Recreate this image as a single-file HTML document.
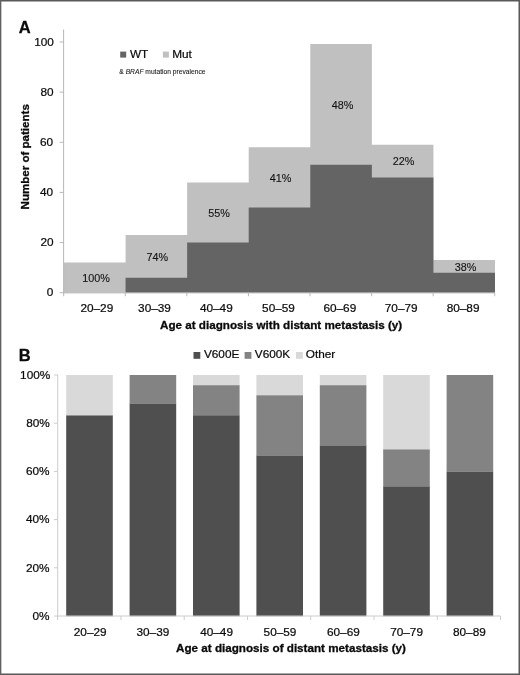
<!DOCTYPE html>
<html><head><meta charset="utf-8"><title>Figure</title>
<style>html,body{margin:0;padding:0;background:#fff}svg{display:block}text{font-family:"Liberation Sans",Arial,Helvetica,sans-serif;fill:#0a0a0a;stroke:#0a0a0a;stroke-width:0.22px}text[font-weight=bold]{stroke-width:0.3px}</style></head><body>
<svg width="520" height="675" viewBox="0 0 520 675">
<rect x="0" y="0" width="520" height="675" fill="#fff"/>
<rect x="0" y="0" width="520" height="1.5" fill="#595959"/>
<rect x="0" y="673.5" width="520" height="1.5" fill="#595959"/>
<rect x="0" y="0" width="1.35" height="675" fill="#616161"/>
<rect x="518.5" y="0" width="1.5" height="675" fill="#595959"/>
<path d="M64.00,292.70 L64.00,262.62 L125.57,262.62 L125.57,235.04 L187.14,235.04 L187.14,182.39 L248.71,182.39 L248.71,147.29 L310.29,147.29 L310.29,44.01 L371.86,44.01 L371.86,144.79 L433.43,144.79 L433.43,260.11 L495.00,260.11 L495.00,292.70Z" fill="#c0c0c0"/>
<path d="M64.00,292.70 L64.00,292.70 L125.57,292.70 L125.57,277.66 L187.14,277.66 L187.14,242.56 L248.71,242.56 L248.71,207.46 L310.29,207.46 L310.29,164.84 L371.86,164.84 L371.86,177.38 L433.43,177.38 L433.43,272.64 L495.00,272.64 L495.00,292.70Z" fill="#646464"/>
<line x1="63.6" y1="29.5" x2="63.6" y2="293.2" stroke="#b8b8b8" stroke-width="1"/>
<line x1="63.6" y1="292.9" x2="495.0" y2="292.9" stroke="#b8b8b8" stroke-width="1"/>
<line x1="59.6" y1="292.70" x2="63.6" y2="292.70" stroke="#b8b8b8" stroke-width="1"/>
<text x="53.2" y="296.40" font-size="11.8" text-anchor="end">0</text>
<line x1="59.6" y1="242.56" x2="63.6" y2="242.56" stroke="#b8b8b8" stroke-width="1"/>
<text x="53.5" y="246.26" font-size="11.8" text-anchor="end">20</text>
<line x1="59.6" y1="192.42" x2="63.6" y2="192.42" stroke="#b8b8b8" stroke-width="1"/>
<text x="53.05" y="196.12" font-size="11.8" text-anchor="end">40</text>
<line x1="59.6" y1="142.28" x2="63.6" y2="142.28" stroke="#b8b8b8" stroke-width="1"/>
<text x="53.05" y="145.98" font-size="11.8" text-anchor="end">60</text>
<line x1="59.6" y1="92.14" x2="63.6" y2="92.14" stroke="#b8b8b8" stroke-width="1"/>
<text x="53.55" y="95.84" font-size="11.8" text-anchor="end">80</text>
<line x1="59.6" y1="42.00" x2="63.6" y2="42.00" stroke="#b8b8b8" stroke-width="1"/>
<text x="53.95" y="45.70" font-size="11.8" text-anchor="end">100</text>
<line x1="63.70" y1="292.7" x2="63.70" y2="296.2" stroke="#b8b8b8" stroke-width="1"/>
<line x1="125.27" y1="292.7" x2="125.27" y2="296.2" stroke="#b8b8b8" stroke-width="1"/>
<line x1="186.84" y1="292.7" x2="186.84" y2="296.2" stroke="#b8b8b8" stroke-width="1"/>
<line x1="248.41" y1="292.7" x2="248.41" y2="296.2" stroke="#b8b8b8" stroke-width="1"/>
<line x1="309.99" y1="292.7" x2="309.99" y2="296.2" stroke="#b8b8b8" stroke-width="1"/>
<line x1="371.56" y1="292.7" x2="371.56" y2="296.2" stroke="#b8b8b8" stroke-width="1"/>
<line x1="433.13" y1="292.7" x2="433.13" y2="296.2" stroke="#b8b8b8" stroke-width="1"/>
<line x1="494.70" y1="292.7" x2="494.70" y2="296.2" stroke="#b8b8b8" stroke-width="1"/>
<text x="96.80" y="311.6" font-size="11.8" text-anchor="middle">20–29</text>
<text x="154.50" y="311.6" font-size="11.8" text-anchor="middle">30–39</text>
<text x="216.30" y="311.6" font-size="11.8" text-anchor="middle">40–49</text>
<text x="278.50" y="311.6" font-size="11.8" text-anchor="middle">50–59</text>
<text x="339.80" y="311.6" font-size="11.8" text-anchor="middle">60–69</text>
<text x="401.20" y="311.6" font-size="11.8" text-anchor="middle">70–79</text>
<text x="463.10" y="311.6" font-size="11.8" text-anchor="middle">80–89</text>
<text x="281.1" y="328.6" font-size="11.67" font-weight="bold" text-anchor="middle">Age at diagnosis with distant metastasis (y)</text>
<text transform="translate(28.7,156.8) rotate(-90)" font-size="11.55" font-weight="bold" text-anchor="middle">Number of patients</text>
<text x="18.8" y="33.1" font-size="16.5" font-weight="bold" fill="#111">A</text>
<text x="96" y="282.2" font-size="10.8" text-anchor="middle" style="stroke-width:0.12px;fill:#151515">100%</text>
<text x="157.3" y="260.8" font-size="10.8" text-anchor="middle" style="stroke-width:0.12px;fill:#151515">74%</text>
<text x="219" y="216.8" font-size="10.8" text-anchor="middle" style="stroke-width:0.12px;fill:#151515">55%</text>
<text x="280.5" y="182.3" font-size="10.8" text-anchor="middle" style="stroke-width:0.12px;fill:#151515">41%</text>
<text x="342.5" y="109.3" font-size="10.8" text-anchor="middle" style="stroke-width:0.12px;fill:#151515">48%</text>
<text x="403.5" y="165.0" font-size="10.8" text-anchor="middle" style="stroke-width:0.12px;fill:#151515">22%</text>
<text x="465.6" y="271.3" font-size="10.8" text-anchor="middle" style="stroke-width:0.12px;fill:#151515">38%</text>
<rect x="120.2" y="51.6" width="6" height="6" fill="#646464"/>
<text x="129.9" y="57.9" font-size="11.8">WT</text>
<rect x="162.9" y="51.6" width="6" height="6" fill="#c0c0c0"/>
<text x="172.2" y="57.9" font-size="11.8">Mut</text>
<text x="119.3" y="74" font-size="6.7" style="stroke-width:0.08px;fill:#222">&amp; <tspan font-style="italic">BRAF</tspan> mutation prevalence</text>
<rect x="66.20" y="415.17" width="46.6" height="201.03" fill="#4f4f4f"/>
<rect x="66.20" y="375.00" width="46.6" height="40.37" fill="#d9d9d9"/>
<rect x="129.60" y="403.35" width="46.6" height="212.85" fill="#4f4f4f"/>
<rect x="129.60" y="375.00" width="46.6" height="28.55" fill="#838383"/>
<rect x="193.00" y="415.17" width="46.6" height="201.03" fill="#4f4f4f"/>
<rect x="193.00" y="385.04" width="46.6" height="30.32" fill="#838383"/>
<rect x="193.00" y="375.00" width="46.6" height="10.24" fill="#d9d9d9"/>
<rect x="256.40" y="455.33" width="46.6" height="160.87" fill="#4f4f4f"/>
<rect x="256.40" y="395.08" width="46.6" height="60.45" fill="#838383"/>
<rect x="256.40" y="375.00" width="46.6" height="20.28" fill="#d9d9d9"/>
<rect x="319.80" y="445.29" width="46.6" height="170.91" fill="#4f4f4f"/>
<rect x="319.80" y="385.04" width="46.6" height="60.45" fill="#838383"/>
<rect x="319.80" y="375.00" width="46.6" height="10.24" fill="#d9d9d9"/>
<rect x="383.20" y="486.23" width="46.6" height="129.97" fill="#4f4f4f"/>
<rect x="383.20" y="449.15" width="46.6" height="37.28" fill="#838383"/>
<rect x="383.20" y="375.00" width="46.6" height="74.35" fill="#d9d9d9"/>
<rect x="446.60" y="471.40" width="46.6" height="144.80" fill="#4f4f4f"/>
<rect x="446.60" y="375.00" width="46.6" height="96.60" fill="#838383"/>
<line x1="57.7" y1="374.5" x2="57.7" y2="616.5" stroke="#cccccc" stroke-width="1"/>
<line x1="57.7" y1="616.0" x2="500.5" y2="616.0" stroke="#cccccc" stroke-width="1"/>
<line x1="53.900000000000006" y1="616.00" x2="57.7" y2="616.00" stroke="#cccccc" stroke-width="1"/>
<text x="49.6" y="619.80" font-size="11.8" text-anchor="end">0%</text>
<line x1="53.900000000000006" y1="567.80" x2="57.7" y2="567.80" stroke="#cccccc" stroke-width="1"/>
<text x="49.6" y="571.60" font-size="11.8" text-anchor="end">20%</text>
<line x1="53.900000000000006" y1="519.60" x2="57.7" y2="519.60" stroke="#cccccc" stroke-width="1"/>
<text x="49.6" y="523.40" font-size="11.8" text-anchor="end">40%</text>
<line x1="53.900000000000006" y1="471.40" x2="57.7" y2="471.40" stroke="#cccccc" stroke-width="1"/>
<text x="49.6" y="475.20" font-size="11.8" text-anchor="end">60%</text>
<line x1="53.900000000000006" y1="423.20" x2="57.7" y2="423.20" stroke="#cccccc" stroke-width="1"/>
<text x="49.8" y="427.00" font-size="11.8" text-anchor="end">80%</text>
<line x1="53.900000000000006" y1="375.00" x2="57.7" y2="375.00" stroke="#cccccc" stroke-width="1"/>
<text x="50.3" y="378.80" font-size="11.8" text-anchor="end">100%</text>
<line x1="57.70" y1="616.0" x2="57.70" y2="620.0" stroke="#cccccc" stroke-width="1"/>
<line x1="120.96" y1="616.0" x2="120.96" y2="620.0" stroke="#cccccc" stroke-width="1"/>
<line x1="184.21" y1="616.0" x2="184.21" y2="620.0" stroke="#cccccc" stroke-width="1"/>
<line x1="247.47" y1="616.0" x2="247.47" y2="620.0" stroke="#cccccc" stroke-width="1"/>
<line x1="310.73" y1="616.0" x2="310.73" y2="620.0" stroke="#cccccc" stroke-width="1"/>
<line x1="373.99" y1="616.0" x2="373.99" y2="620.0" stroke="#cccccc" stroke-width="1"/>
<line x1="437.24" y1="616.0" x2="437.24" y2="620.0" stroke="#cccccc" stroke-width="1"/>
<line x1="500.50" y1="616.0" x2="500.50" y2="620.0" stroke="#cccccc" stroke-width="1"/>
<text x="90.20" y="636.0" font-size="11.8" text-anchor="middle">20–29</text>
<text x="152.90" y="636.0" font-size="11.8" text-anchor="middle">30–39</text>
<text x="216.60" y="636.0" font-size="11.8" text-anchor="middle">40–49</text>
<text x="280.00" y="636.0" font-size="11.8" text-anchor="middle">50–59</text>
<text x="343.40" y="636.0" font-size="11.8" text-anchor="middle">60–69</text>
<text x="406.60" y="636.0" font-size="11.8" text-anchor="middle">70–79</text>
<text x="469.40" y="636.0" font-size="11.8" text-anchor="middle">80–89</text>
<text x="291" y="652.2" font-size="11.67" font-weight="bold" text-anchor="middle">Age at diagnosis of distant metastasis (y)</text>
<text x="18.7" y="361.2" font-size="16.5" font-weight="bold" fill="#111">B</text>
<rect x="193.5" y="352" width="6.8" height="6.8" fill="#4f4f4f"/>
<text x="203.9" y="358.2" font-size="11.8">V600E</text>
<rect x="244.6" y="352" width="6.8" height="6.8" fill="#838383"/>
<text x="254.8" y="358.2" font-size="11.8">V600K</text>
<rect x="296" y="352" width="6.8" height="6.8" fill="#d9d9d9"/>
<text x="305.8" y="358.2" font-size="11.8">Other</text>
</svg></body></html>
